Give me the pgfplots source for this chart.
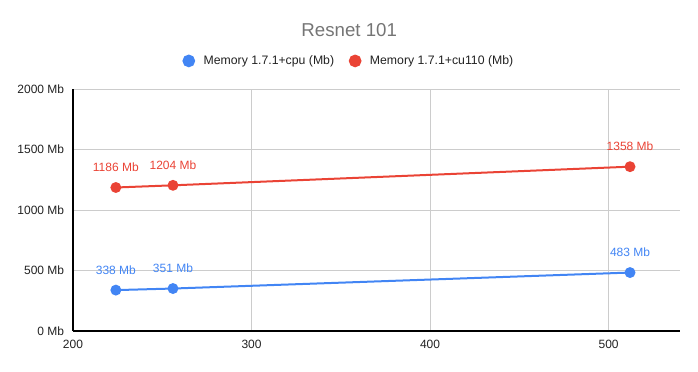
\documentclass[border=0pt]{standalone}
\usepackage{pgfplots}
\pgfplotsset{compat=1.18}
\usepackage{fontspec}
\setmainfont{Liberation Sans}
\definecolor{gblue}{HTML}{4285F4}
\definecolor{gred}{HTML}{EA4335}
\definecolor{ggrid}{HTML}{CCCCCC}
\definecolor{gtitle}{HTML}{757575}
\definecolor{gtext}{HTML}{222222}
\begin{document}
\begin{tikzpicture}
\useasboundingbox (-54.75pt,-30pt) rectangle (468.75pt,248.25pt);
\begin{axis}[
  at={(0,0)}, anchor=south west,
  scale only axis, width=455.25pt, height=181.5pt,
  xmin=200, xmax=540, ymin=0, ymax=2000,
  xtick={200,300,400,500}, ytick={0,500,1000,1500,2000},
  axis x line=bottom, axis y line=left,
  axis line style={black, line width=0.9pt, -},
  tick style={draw=none},
  grid=major, major grid style={ggrid, line width=0.75pt},
  /pgf/number format/assume math mode=true,
  /pgf/number format/1000 sep={},
  ticklabel style={font=\fontsize{9}{11}\selectfont, text=gtext},
  yticklabel={\pgfmathprintnumber{\tick}~Mb},
  yticklabel style={xshift=-1pt},
  xticklabel style={yshift=-1pt},
  clip=false,
  title={Resnet 101},
  title style={at={(0.455,1.211)}, anchor=center, font=\fontsize{14}{16}\selectfont, text=gtitle},
  legend columns=2,
  legend style={at={(0.455,1.116)}, anchor=center, draw=none, fill=none,
    font=\fontsize{9.2}{11}\selectfont, text=gtext,
    /tikz/every even column/.append style={column sep=9pt}},
  legend image code/.code={\fill[#1] (0.1cm,0pt) circle (4pt); \path[draw=none,fill=none] (0.1cm,0pt) -- (0.42cm,0pt);},
  nodes near coords={\pgfmathprintnumber{\pgfplotspointmeta}~Mb},
  point meta=y,
  every node near coord/.append style={font=\fontsize{9}{11}\selectfont, anchor=base, yshift=12pt, inner sep=0pt},
]
\addplot[gblue, line width=1.5pt, mark=*, mark size=3.3pt, mark options={solid, fill=gblue, draw=gblue},
  nodes near coords style={text=gblue}]
  coordinates {(224,338) (256,351) (512,483)};
\addlegendentry{Memory 1.7.1+cpu (Mb)}
\addplot[gred, line width=1.5pt, mark=*, mark size=3.3pt, mark options={solid, fill=gred, draw=gred},
  nodes near coords style={text=gred}]
  coordinates {(224,1186) (256,1204) (512,1358)};
\addlegendentry{Memory 1.7.1+cu110 (Mb)}
\end{axis}
\end{tikzpicture}
\end{document}
